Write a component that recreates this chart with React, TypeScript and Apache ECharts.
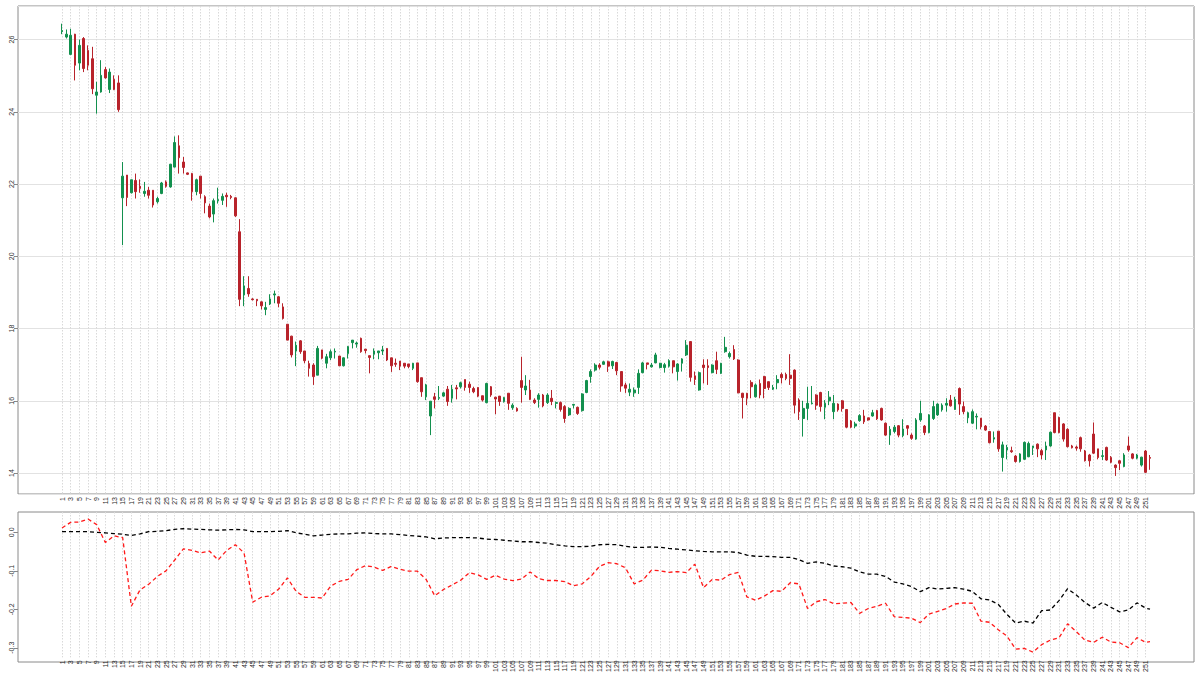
import React, { useEffect, useRef } from "react";
import * as echarts from "echarts";

// category labels 1..252
const categories: string[] = Array.from({ length: 252 }, (_, i) => String(i + 1));

// [open, close, low, high] per session
const candles: [number, number, number, number][] = [
  [26.22, 26.25, 26.15, 26.44], [26.07, 26.15, 26.03, 26.28], [25.59, 26.12, 25.57, 26.3], [26.15, 25.29, 24.87, 26.16], [25.35, 25.84, 25.15, 26.0],
  [26.03, 25.2, 25.1, 26.07], [25.7, 25.29, 25.15, 25.84], [25.47, 24.64, 24.49, 25.8], [24.46, 24.55, 23.95, 24.83], [24.55, 25.01, 24.53, 25.43],
  [25.17, 24.94, 24.92, 25.24], [24.62, 25.1, 24.52, 25.2], [24.9, 24.62, 24.6, 25.01], [24.8, 24.06, 24.0, 25.01], [21.62, 22.22, 20.31, 22.61],
  [22.25, 21.63, 21.39, 22.25], [21.76, 22.12, 21.74, 22.12], [22.1, 21.79, 21.6, 22.29], [21.94, 21.88, 21.76, 22.13], [21.74, 21.8, 21.65, 22.06],
  [21.83, 21.69, 21.6, 21.92], [21.83, 21.42, 21.35, 21.83], [21.51, 21.6, 21.46, 21.65], [21.74, 22.03, 21.72, 22.06], [22.06, 21.94, 21.9, 22.1],
  [21.92, 22.55, 21.9, 22.56], [22.47, 23.15, 22.46, 23.32], [23.06, 22.73, 22.29, 23.35], [22.61, 22.46, 22.29, 22.75], [22.31, 22.27, 22.25, 22.32],
  [22.29, 21.79, 21.54, 22.31], [21.79, 22.12, 21.69, 22.15], [22.22, 21.74, 21.6, 22.22], [21.65, 21.48, 21.19, 21.69], [21.39, 21.09, 21.05, 21.46],
  [21.17, 21.54, 20.94, 21.6], [21.54, 21.57, 21.46, 21.9], [21.55, 21.66, 21.42, 21.74], [21.69, 21.65, 21.37, 21.76], [21.66, 21.63, 21.58, 21.7],
  [21.62, 21.12, 21.09, 21.63], [20.68, 18.81, 18.62, 21.03], [18.93, 19.18, 18.62, 19.45], [19.11, 18.96, 18.88, 19.45], [18.82, 18.8, 18.78, 18.84],
  [18.81, 18.77, 18.62, 18.81], [18.74, 18.63, 18.53, 18.75], [18.53, 18.58, 18.37, 18.74], [18.68, 18.82, 18.65, 18.95], [18.93, 18.96, 18.7, 19.05],
  [18.88, 18.7, 18.59, 18.9], [18.6, 18.28, 18.25, 18.7], [18.12, 17.68, 17.68, 18.12], [17.79, 17.27, 17.2, 17.8], [17.38, 17.54, 16.96, 17.64],
  [17.66, 17.36, 17.3, 17.68], [17.38, 17.11, 17.04, 17.38], [17.03, 16.9, 16.67, 17.11], [16.99, 16.67, 16.44, 17.04], [16.71, 17.45, 16.71, 17.52],
  [17.41, 17.18, 17.15, 17.41], [17.04, 17.22, 16.9, 17.3], [17.19, 17.36, 17.13, 17.42], [17.35, 17.37, 17.17, 17.45], [17.24, 16.97, 16.97, 17.24],
  [16.97, 17.19, 16.95, 17.2], [17.31, 17.5, 17.17, 17.52], [17.61, 17.68, 17.45, 17.68], [17.57, 17.6, 17.47, 17.64], [17.73, 17.36, 17.33, 17.75],
  [17.43, 17.39, 17.31, 17.43], [17.25, 17.2, 16.76, 17.25], [17.29, 17.38, 17.15, 17.45], [17.33, 17.38, 17.15, 17.38], [17.38, 17.41, 17.27, 17.52],
  [17.45, 17.13, 17.1, 17.45], [17.19, 16.97, 16.8, 17.19], [17.04, 17.01, 16.94, 17.17], [17.1, 16.96, 16.85, 17.1], [17.04, 16.96, 16.9, 17.04],
  [17.02, 16.95, 16.9, 17.02], [16.9, 17.04, 16.85, 17.05], [17.05, 16.53, 16.5, 17.05], [16.64, 16.25, 16.11, 16.64], [16.11, 16.44, 16.02, 16.47],
  [15.58, 15.99, 15.05, 15.99], [16.11, 16.04, 15.79, 16.22], [16.07, 16.09, 16.02, 16.41], [16.13, 16.22, 16.11, 16.25], [16.32, 15.98, 15.86, 16.41],
  [16.07, 16.32, 15.95, 16.44], [16.36, 16.33, 16.04, 16.44], [16.39, 16.5, 16.34, 16.53], [16.59, 16.37, 16.28, 16.59], [16.46, 16.37, 16.22, 16.53],
  [16.34, 16.25, 16.21, 16.39], [16.37, 16.13, 16.1, 16.37], [16.14, 16.02, 15.98, 16.14], [15.95, 16.48, 15.93, 16.5], [16.39, 16.16, 16.11, 16.41],
  [16.1, 16.05, 15.63, 16.11], [16.13, 15.98, 15.86, 16.13], [15.98, 16.09, 15.95, 16.11], [16.21, 15.93, 15.75, 16.21], [15.81, 15.88, 15.75, 15.93],
  [15.79, 15.72, 15.7, 15.82], [16.56, 16.37, 15.95, 17.22], [16.3, 16.41, 16.16, 16.71], [16.3, 16.04, 16.02, 16.58], [16.02, 15.95, 15.91, 16.07],
  [16.04, 16.16, 15.81, 16.21], [16.16, 15.86, 15.82, 16.19], [15.95, 16.16, 15.91, 16.21], [16.07, 15.98, 15.88, 16.3], [15.93, 15.95, 15.79, 15.98],
  [15.95, 15.76, 15.7, 15.98], [15.84, 15.51, 15.39, 15.88], [15.61, 15.79, 15.58, 15.82], [15.88, 15.9, 15.79, 15.91], [15.82, 15.65, 15.61, 15.84],
  [15.73, 16.19, 15.7, 16.21], [16.23, 16.56, 16.21, 16.58], [16.67, 16.81, 16.5, 16.87], [16.85, 16.99, 16.81, 17.04], [16.99, 16.93, 16.87, 17.04],
  [17.01, 17.08, 17.0, 17.11], [17.08, 16.96, 16.8, 17.11], [16.97, 17.09, 16.88, 17.11], [17.06, 16.83, 16.71, 17.08], [16.81, 16.41, 16.25, 16.81],
  [16.44, 16.35, 16.22, 16.5], [16.24, 16.32, 16.13, 16.48], [16.22, 16.3, 16.11, 16.37], [16.37, 16.76, 16.19, 16.87], [16.78, 17.05, 16.76, 17.08],
  [17.05, 17.01, 16.87, 17.05], [16.94, 16.99, 16.92, 17.05], [17.05, 17.27, 17.04, 17.33], [16.92, 17.04, 16.9, 17.05], [16.92, 17.0, 16.78, 17.05],
  [16.96, 17.11, 16.92, 17.15], [17.11, 16.94, 16.76, 17.11], [16.81, 17.02, 16.56, 17.04], [17.04, 17.16, 16.81, 17.18], [17.27, 17.54, 17.24, 17.68],
  [17.64, 16.65, 16.53, 17.65], [16.69, 16.59, 16.44, 16.81], [16.3, 16.78, 16.28, 16.81], [16.99, 16.92, 16.48, 17.15], [16.97, 16.92, 16.44, 17.15],
  [16.78, 16.99, 16.76, 17.01], [17.11, 16.87, 16.74, 17.36], [16.76, 17.04, 16.74, 17.05], [17.36, 17.48, 17.33, 17.77], [17.22, 17.31, 17.17, 17.36],
  [17.42, 17.16, 17.13, 17.54], [17.13, 16.22, 16.21, 17.15], [16.21, 16.09, 15.51, 16.22], [16.21, 16.07, 15.88, 16.22], [16.51, 16.39, 16.07, 16.57],
  [16.11, 16.44, 16.09, 16.48], [16.48, 16.16, 16.07, 16.59], [16.67, 16.34, 16.07, 16.69], [16.53, 16.37, 16.3, 16.53], [16.32, 16.37, 16.3, 16.44],
  [16.5, 16.59, 16.32, 16.71], [16.73, 16.64, 16.48, 16.78], [16.73, 16.62, 16.57, 16.78], [16.71, 16.62, 16.44, 17.29], [16.85, 15.88, 15.65, 16.87],
  [16.02, 15.7, 15.47, 16.07], [15.51, 15.79, 15.01, 16.0], [15.79, 15.93, 15.47, 16.39], [15.92, 15.94, 15.9, 16.41], [16.16, 15.88, 15.75, 16.18],
  [16.23, 15.84, 15.7, 16.25], [15.82, 15.93, 15.49, 16.02], [16.0, 16.1, 15.88, 16.27], [15.7, 15.93, 15.49, 16.16], [15.91, 15.75, 15.7, 15.93],
  [16.0, 15.79, 15.7, 16.02], [15.76, 15.27, 15.24, 15.76], [15.44, 15.27, 15.24, 15.47], [15.3, 15.36, 15.24, 15.42], [15.45, 15.59, 15.42, 15.63],
  [15.58, 15.42, 15.36, 15.75], [15.53, 15.47, 15.45, 15.53], [15.58, 15.67, 15.56, 15.75], [15.73, 15.5, 15.47, 15.75], [15.79, 15.47, 15.45, 15.81],
  [15.38, 15.05, 15.03, 15.4], [15.05, 15.21, 14.78, 15.3], [15.15, 15.27, 15.1, 15.33], [15.31, 15.05, 14.99, 15.33], [15.04, 15.22, 14.99, 15.49],
  [15.31, 15.24, 15.05, 15.33], [15.05, 14.96, 14.92, 15.1], [14.94, 15.47, 14.92, 15.52], [15.47, 15.65, 15.42, 16.0], [15.3, 15.12, 15.05, 15.33],
  [15.12, 15.61, 15.1, 15.63], [15.51, 15.84, 15.47, 16.0], [15.61, 15.91, 15.58, 15.93], [15.75, 15.88, 15.7, 15.93], [15.88, 15.93, 15.7, 16.07],
  [16.02, 15.86, 15.84, 16.16], [15.76, 16.04, 15.75, 16.11], [16.34, 15.91, 15.61, 16.37], [15.84, 15.7, 15.63, 15.98], [15.53, 15.67, 15.38, 15.7],
  [15.38, 15.7, 15.36, 15.76], [15.55, 15.57, 15.21, 15.65], [15.52, 15.28, 15.21, 15.52], [15.3, 15.19, 15.17, 15.33], [15.15, 14.84, 14.82, 15.15],
  [14.94, 14.98, 14.84, 15.15], [15.16, 14.67, 14.59, 15.16], [14.43, 14.78, 14.04, 14.87], [14.64, 14.71, 14.38, 14.78], [14.62, 14.59, 14.56, 14.73],
  [14.47, 14.32, 14.29, 14.5], [14.32, 14.53, 14.29, 14.55], [14.38, 14.85, 14.36, 14.87], [14.45, 14.82, 14.44, 14.87], [14.7, 14.75, 14.5, 14.75],
  [14.8, 14.67, 14.44, 14.82], [14.62, 14.5, 14.38, 14.67], [14.64, 14.75, 14.36, 14.87], [14.75, 15.13, 14.73, 15.15], [15.67, 15.12, 15.1, 15.67],
  [15.54, 15.12, 15.1, 15.56], [15.36, 14.94, 14.87, 15.38], [15.21, 14.73, 14.71, 15.24], [14.75, 14.7, 14.68, 14.78], [14.72, 14.69, 14.62, 14.76],
  [14.98, 14.67, 14.59, 15.01], [14.61, 14.34, 14.32, 14.64], [14.5, 14.34, 14.18, 14.53], [15.08, 14.55, 14.53, 15.4], [14.67, 14.43, 14.38, 14.67],
  [14.46, 14.48, 14.36, 14.64], [14.71, 14.36, 14.34, 14.73], [14.43, 14.3, 14.27, 14.47], [14.22, 14.15, 13.92, 14.24], [14.34, 14.27, 14.08, 14.36],
  [14.18, 14.5, 14.16, 14.55], [14.75, 14.64, 14.59, 15.01], [14.53, 14.41, 14.38, 14.55], [14.41, 14.5, 14.38, 14.53], [14.22, 14.44, 14.18, 14.45],
  [14.61, 14.02, 14.0, 14.64], [14.43, 14.41, 14.09, 14.5],
];

// lower panel: values at categories 1, 3, 5, ..., 251, then the value at 252
const redOdd: number[] = [
  0.01, 0.025, 0.026, 0.034, 0.019, -0.029, -0.011, -0.016, -0.2, -0.156,
  -0.141, -0.12, -0.105, -0.076, -0.046, -0.05, -0.057, -0.052, -0.076, -0.05,
  -0.035, -0.057, -0.189, -0.176, -0.172, -0.154, -0.124, -0.16, -0.176, -0.176,
  -0.178, -0.146, -0.133, -0.128, -0.102, -0.091, -0.095, -0.104, -0.093, -0.101,
  -0.106, -0.106, -0.128, -0.172, -0.155, -0.143, -0.13, -0.11, -0.116, -0.128,
  -0.117, -0.127, -0.131, -0.127, -0.108, -0.126, -0.131, -0.131, -0.134, -0.145,
  -0.14, -0.12, -0.093, -0.083, -0.086, -0.097, -0.14, -0.13, -0.103, -0.105,
  -0.109, -0.107, -0.11, -0.087, -0.15, -0.128, -0.13, -0.115, -0.109, -0.175,
  -0.184, -0.173, -0.158, -0.16, -0.137, -0.14, -0.206, -0.188, -0.182, -0.193,
  -0.192, -0.19, -0.219, -0.206, -0.2, -0.192, -0.228, -0.23, -0.232, -0.244,
  -0.221, -0.214, -0.206, -0.194, -0.191, -0.192, -0.24, -0.243, -0.263, -0.28,
  -0.315, -0.313, -0.323, -0.303, -0.291, -0.285, -0.247, -0.268, -0.291, -0.297,
  -0.283, -0.296, -0.298, -0.311, -0.284, -0.297,
];
const redLast = -0.295;

const blackOdd: number[] = [
  0, 0, 0, 0, -0.002, -0.003, -0.005, -0.007, -0.01, -0.006,
  0, 0.001, 0.003, 0.006, 0.008, 0.007, 0.006, 0.005, 0.004, 0.005,
  0.006, 0.005, 0, 0, 0, 0.001, 0.003, -0.003, -0.007, -0.011,
  -0.009, -0.007, -0.006, -0.006, -0.004, -0.003, -0.005, -0.006, -0.006, -0.008,
  -0.01, -0.012, -0.014, -0.019, -0.017, -0.016, -0.016, -0.016, -0.017, -0.02,
  -0.021, -0.023, -0.025, -0.027, -0.027, -0.029, -0.031, -0.035, -0.038, -0.04,
  -0.04, -0.039, -0.035, -0.034, -0.035, -0.039, -0.042, -0.042, -0.041, -0.042,
  -0.045, -0.047, -0.049, -0.051, -0.053, -0.054, -0.054, -0.054, -0.056, -0.063,
  -0.066, -0.066, -0.067, -0.069, -0.069, -0.075, -0.085, -0.081, -0.085, -0.092,
  -0.094, -0.098, -0.108, -0.114, -0.114, -0.12, -0.135, -0.14, -0.147, -0.161,
  -0.15, -0.154, -0.152, -0.15, -0.154, -0.16, -0.18, -0.183, -0.195, -0.222,
  -0.245, -0.24, -0.245, -0.212, -0.21, -0.185, -0.153, -0.17, -0.19, -0.205,
  -0.19, -0.203, -0.215, -0.21, -0.191, -0.205,
];
const blackLast = -0.208;

const UP = "#13904e";
const DOWN = "#b8232b";
const FONT = "'Liberation Sans', Arial, sans-serif";

function spread(odd: number[], last: number): (number | null)[] {
  const out: (number | null)[] = categories.map(() => null);
  odd.forEach((v, k) => {
    out[2 * k] = v;
  });
  out[categories.length - 1] = last;
  return out;
}

const everyOther = (index: number) => index % 2 === 0;

export default function App() {
  const ref = useRef<HTMLDivElement>(null);

  useEffect(() => {
    if (!ref.current) return;
    const chart = echarts.init(ref.current, undefined, { renderer: "svg" });

    const catAxis = (gridIndex: number) => ({
      gridIndex,
      type: "category" as const,
      data: categories,
      boundaryGap: false,
      axisLine: { show: false },
      axisTick: { show: false, interval: everyOther },
      axisLabel: {
        interval: everyOther,
        rotate: 90,
        fontSize: 7,
        color: "#2a2a2a",
        margin: 3,
        fontFamily: FONT,
      },
      splitLine: {
        show: true,
        interval: everyOther,
        lineStyle: { color: "#d9d9d9", type: [1.5, 1.5], width: 1 },
      },
    });

    const topMin = 13.42;
    const topMax = 26.93;
    const botMin = -0.337;
    const botMax = 0.0528;

    chart.setOption({
      animation: false,
      backgroundColor: "#ffffff",
      grid: [
        { left: 18, right: 6, top: 6, bottom: 181, show: true, borderColor: "#8a8a8a", borderWidth: 1, backgroundColor: "#fff" },
        { left: 62, right: 50, top: 6, bottom: 181 },
        { left: 18, right: 6, top: 512, bottom: 13, show: true, borderColor: "#8a8a8a", borderWidth: 1, backgroundColor: "#fff" },
        { left: 62, right: 50, top: 512, bottom: 13 },
      ],
      xAxis: [
        { gridIndex: 0, type: "value", min: 0, max: 1, show: false },
        catAxis(1),
        { gridIndex: 2, type: "value", min: 0, max: 1, show: false },
        catAxis(3),
      ],
      yAxis: [
        {
          gridIndex: 0,
          type: "value",
          min: topMin,
          max: topMax,
          splitNumber: 7,
          axisLine: { show: false },
          axisTick: { show: true, length: 4, lineStyle: { color: "#888" } },
          axisLabel: {
            rotate: 90,
            fontSize: 7,
            color: "#333",
            margin: 3,
            fontFamily: FONT,
            showMinLabel: false,
            showMaxLabel: false,
            formatter: (v: number) => (Math.abs(v - Math.round(v)) < 1e-6 ? String(Math.round(v)) : ""),
          },
          splitLine: { show: true, lineStyle: { color: "#e2e2e2", width: 1 } },
        },
        { gridIndex: 1, type: "value", min: topMin, max: topMax, show: false },
        {
          gridIndex: 2,
          type: "value",
          min: botMin,
          max: botMax,
          splitNumber: 4,
          axisLine: { show: false },
          axisTick: { show: true, length: 4, lineStyle: { color: "#888" } },
          axisLabel: {
            rotate: 90,
            fontSize: 7,
            color: "#333",
            margin: 3,
            fontFamily: FONT,
            showMinLabel: false,
            showMaxLabel: false,
            formatter: (v: number) => {
              const r = Math.round(v * 10) / 10;
              return Math.abs(v - r) < 1e-6 ? (r < 0 ? "-" : "") + Math.abs(r).toFixed(1) : "";
            },
          },
          splitLine: { show: false },
        },
        { gridIndex: 3, type: "value", min: botMin, max: botMax, show: false },
      ],
      series: [
        {
          type: "candlestick",
          xAxisIndex: 1,
          yAxisIndex: 1,
          data: candles,
          barWidth: 2.2,
          clip: false,
          itemStyle: {
            color: UP,
            color0: DOWN,
            borderColor: UP,
            borderColor0: DOWN,
            borderWidth: 1,
          },
        },
        {
          type: "line",
          xAxisIndex: 3,
          yAxisIndex: 3,
          data: spread(blackOdd, blackLast),
          connectNulls: true,
          symbol: "none",
          lineStyle: { color: "#000", width: 1.3, type: [4, 3] },
        },
        {
          type: "line",
          xAxisIndex: 3,
          yAxisIndex: 3,
          data: spread(redOdd, redLast),
          connectNulls: true,
          symbol: "none",
          lineStyle: { color: "#ff1a1a", width: 1.3, type: [4, 3] },
        },
      ],
    });

    return () => {
      chart.dispose();
    };
  }, []);

  return (
    <div
      ref={ref}
      style={{ position: "fixed", left: 0, top: 0, width: 1200, height: 675, background: "#fff" }}
    />
  );
}
